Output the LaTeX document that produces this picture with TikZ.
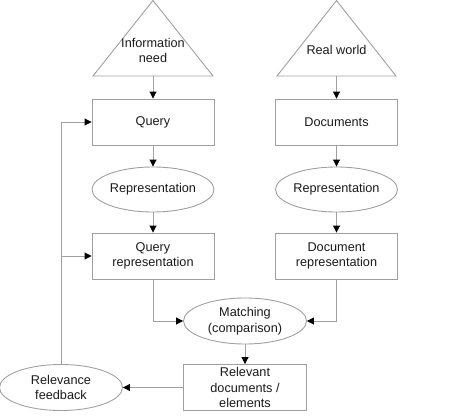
\documentclass[tikz,border=0pt]{standalone}
\usepackage{fontspec}
\setmainfont{Liberation Sans}
\usetikzlibrary{shapes.geometric,arrows.meta}
\definecolor{edge}{HTML}{A0A0A0}
\definecolor{ink}{HTML}{1A1A1A}
\begin{document}
\begin{tikzpicture}[x=1pt,y=-1pt,
  lbl/.style={inner sep=0pt,align=center,text=ink,font=\fontsize{12.7}{15.5}\selectfont},
  box/.style={lbl,draw=edge,line width=0.9pt,minimum width=122pt,minimum height=46pt},
  oval/.style={box,ellipse,minimum height=45pt},
  conn/.style={draw=edge,line width=0.9pt,-{Triangle[length=7pt,width=7pt,color=black]}},
  plain/.style={draw=edge,line width=0.9pt}]
\useasboundingbox (0,0) rectangle (474,420);
% triangles
\draw[plain] (153,0.5) -- (213,76) -- (93,76) -- cycle;
\node[lbl] (need) at (153,50.5) {Information\\need};
\coordinate (needbase) at (153,76);
\draw[plain] (336.5,0.5) -- (396,76) -- (277,76) -- cycle;
\node[lbl] (world) at (336.5,50) {Real world};
\coordinate (worldbase) at (336.5,76);
% left column
\node[box] (query) at (153,122) {Query};
\node[oval] (rep1) at (153,189.5) {Representation};
\node[box] (qrep) at (153,256) {Query\\representation};
% right column
\node[box] (docs) at (336.5,122) {Documents};
\node[oval] (rep2) at (336.5,189.5) {Representation};
\node[box] (drep) at (336.5,256) {Document\\representation};
% bottom
\node[oval,minimum width=123pt,minimum height=46pt] (match) at (245,321) {Matching\\(comparison)};
\node[box,minimum width=123pt] (rel) at (245,387.5) {Relevant\\documents /\\elements};
\node[oval,minimum width=123pt,minimum height=46pt] (fb) at (61,387.5) {Relevance\\feedback};
% connectors
\draw[conn] (needbase) -- (query);
\draw[conn] (query) -- (rep1);
\draw[conn] (rep1) -- (qrep);
\draw[conn] (worldbase) -- (docs);
\draw[conn] (docs) -- (rep2);
\draw[conn] (rep2) -- (drep);
\draw[conn] (qrep.south) |- (match.west);
\draw[conn] (drep.south) |- (match.east);
\draw[conn] (match) -- (rel);
\draw[conn] (rel) -- (fb);
\draw[conn] (fb.north) |- (query.west);
\draw[conn] (fb.north |- qrep.west) -- (qrep.west);
\end{tikzpicture}
\end{document}
